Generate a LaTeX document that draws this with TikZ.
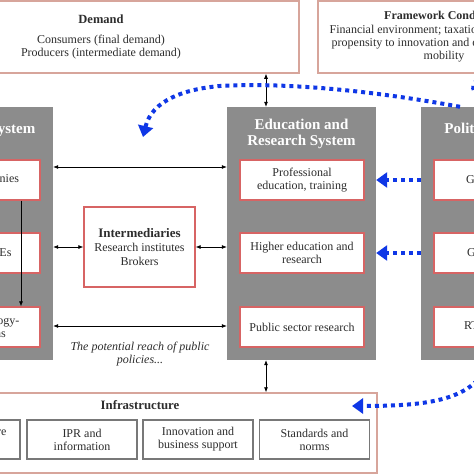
\documentclass[tikz,border=0pt]{standalone}
\usepackage{fontspec}
\setmainfont{Liberation Serif}
\usetikzlibrary{arrows.meta,calc}
\definecolor{txt}{RGB}{45,45,45}
\definecolor{colgray}{RGB}{140,140,140}
\definecolor{boxred}{RGB}{215,100,100}
\definecolor{outerpink}{RGB}{215,165,155}
\definecolor{infgray}{RGB}{120,120,120}
\definecolor{dotblue}{RGB}{15,55,230}
\begin{document}
\begin{tikzpicture}[x=1pt,y=-1pt,
  font=\fontsize{12}{13}\selectfont, text=txt,
  outerbox/.style={draw=outerpink, line width=1.5pt, fill=white, inner sep=0pt, align=center},
  column/.style={fill=colgray, inner sep=0pt, minimum width=149pt, minimum height=253pt},
  itembox/.style={draw=boxred, line width=1.3pt, fill=white, minimum width=124pt, minimum height=40pt, align=center, inner sep=1pt},
  infbox/.style={draw=infgray, line width=1.3pt, fill=white, minimum width=110pt, minimum height=39pt, align=center, inner sep=1pt},
  coltitle/.style={text=white, font=\fontsize{15}{15.5}\selectfont\bfseries, align=center},
  boldtitle/.style={font=\fontsize{12.8}{14}\selectfont\bfseries},
  link/.style={{Latex[length=5pt,width=4pt]}-{Latex[length=5pt,width=4pt]}, line width=0.7pt, draw=black},
  onelink/.style={-{Latex[length=5pt,width=4pt]}, line width=0.7pt, draw=black},
  policy/.style={draw=dotblue, line width=4pt, dash pattern=on 4pt off 4pt, -{Triangle[length=11pt,width=15pt]}},
]
\useasboundingbox (0,0) rectangle (474,474);
\clip (0,0) rectangle (474,474);
\fill[white] (0,0) rectangle (474,474);

% top boxes
\node[outerbox, minimum width=396pt, minimum height=72pt] (demand) at (101,37)
  {{\bfseries\fontsize{12.5}{13}\selectfont Demand}\\[7pt] Consumers (final demand)\\ Producers (intermediate demand)};
\node[outerbox, minimum width=252pt, minimum height=72pt] (frame) at (444,37)
  {{\bfseries Framework Conditions}\\[1pt] Financial environment; taxation and incentives;\\ propensity to innovation and entrepreneurship;\\ mobility};

% columns
\node[column] (ind) at (-21.5,233.5) {};
\node[column] (edu) at (301.5,233.5) {};
\node[column] (pol) at (495.5,233.5) {};
\node[coltitle] (indt) at (-21.5,130) {Industrial System};
\node[coltitle] (edut) at (301.5,134) {Education and\\Research System};
\node[coltitle] (polt) at (495.5,130) {Political System};

% items
\node[itembox] (ind1) at (-22,180) {Large companies};
\node[itembox] (ind2) at (-22,253) {Mature SMEs};
\node[itembox] (ind3) at (-22,327) {New technology-\\based firms};
\node[itembox] (edu1) at (302,180) {Professional\\education, training};
\node[itembox] (edu2) at (302,253) {Higher education and\\research};
\node[itembox] (edu3) at (302,327) {Public sector research};
\node[itembox] (pol1) at (496,180) {Government};
\node[itembox] (pol2) at (496,253) {Governance};
\node[itembox] (pol3) at (496,327) {RTD policies};

% intermediaries
\node[itembox, minimum width=111pt, minimum height=80pt, font=\fontsize{12}{14}\selectfont] (inter) at (139.5,247)
  {{\bfseries\fontsize{13}{14}\selectfont Intermediaries}\\ Research institutes\\ Brokers};
\node[font=\fontsize{12}{13}\selectfont\itshape, align=center] (reach) at (140,354) {The potential reach of public\\policies...};

% infrastructure
\node[outerbox, minimum width=474pt, minimum height=80pt] (infra) at (140,433) {};
\node[boldtitle] (inft) at (140,405) {Infrastructure};
\node[infbox] (inf1) at (-35,439.5) {Banking, venture\\capital};
\node[infbox] (inf2) at (82,439.5) {IPR and\\information};
\node[infbox] (inf3) at (198,439.5) {Innovation and\\business support};
\node[infbox] (inf4) at (314.5,439.5) {Standards and\\norms};

% black connectors
\coordinate (xv) at (266,0);
\coordinate (xl) at (21,0);
\coordinate (ya) at (0,167);
\coordinate (yc) at (0,326);
\draw[link] (demand.south -| xv) -- (edu.north -| xv);
\draw[link] (edu.south -| xv) -- (infra.north -| xv);
\draw[onelink] (ind1.south -| xl) -- (ind3.north -| xl);
\draw[link] (ind.east |- ya) -- (edu.west |- ya);
\draw[link] (ind.east |- inter) -- (inter.west);
\draw[link] (inter.east) -- (edu.west |- inter);
\draw[link] (ind.east |- yc) -- (edu.west |- yc);

% blue policy arrows
\coordinate (xs) at (460,0);
\coordinate (xr) at (490,0);
\coordinate (xf) at (500,0);
\coordinate (indend) at (143,137);
\coordinate (infend) at (352,406);
\draw[policy] (pol.west |- pol1) -- (edu.east |- pol1);
\draw[policy] (pol.west |- pol2) -- (edu.east |- pol2);
\draw[policy] (pol.north -| xs) .. controls (380,92) and (290,82) .. (220,86)
  .. controls (185,89) and (152,100) .. (indend);
\draw[policy] (pol.south -| xr) .. controls (475,400) and (430,406) .. (infend);
\draw[policy] (pol.north -| xf) .. controls (466,95) and (466,80) .. (frame.south -| xf);
\end{tikzpicture}
\end{document}
